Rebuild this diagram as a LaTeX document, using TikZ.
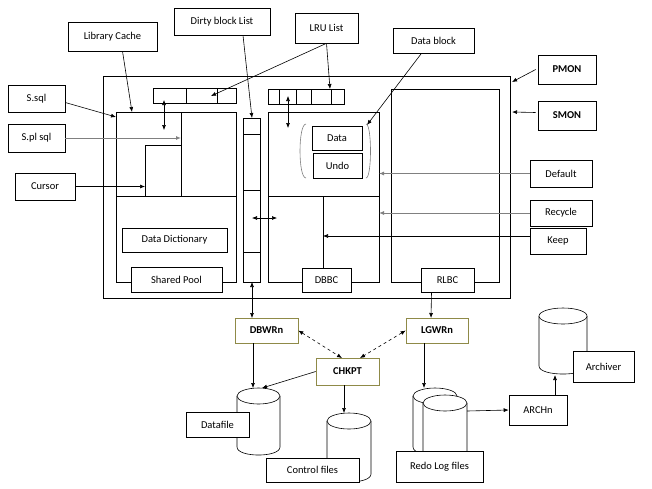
\documentclass[tikz,border=0pt]{standalone}
\usepackage{fontspec}
\setmainfont{Carlito}
\usetikzlibrary{calc}
\usetikzlibrary{arrows.meta}

\tikzset{
  lbl/.style={draw,fill=white,inner sep=0pt,font=\fontsize{10.5}{12}\selectfont},
  proc/.style={draw=olive!50!gray,fill=white,inner sep=0pt,font=\bfseries\fontsize{10.5}{12}\selectfont},
  arr/.style={-{Latex[length=5pt,width=4pt]}},
  darr/.style={{Latex[length=5pt,width=4pt]}-{Latex[length=5pt,width=4pt]}},
  garr/.style={arr,draw=gray,line width=1pt},
}

% cylinder: left x, top y, width, height
\newcommand{\drum}[4]{%
  \draw[fill=white] (#1,#2) -- (#1,{#2+#4}) .. controls (#1,{#2+#4+10.7}) and ({#1+#3},{#2+#4+10.7}) .. ({#1+#3},{#2+#4}) -- ({#1+#3},#2);
  \draw[fill=white] ({#1+#3/2},#2) ellipse ({#3/2} and 8);
}

\begin{document}
\begin{tikzpicture}[x=1pt,y=-1pt,line width=0.6pt]
            \useasboundingbox (0,0) rectangle (652,488);

            % SGA outline
            \draw (103,76) rectangle (510,298);

            % Shared pool
            \draw (116,112) rectangle (236,282);
            \draw (116,196) -- (236,196);
            \draw (181,112) -- (181,196);
            \draw (145,196) -- (145,145) -- (181,145);
            \node[lbl,minimum width=105pt,minimum height=24pt] (dd) at (174.5,240) {Data Dictionary};
            \node[lbl,minimum width=91pt,minimum height=25pt] (sp) at (176.5,279.5) {Shared Pool};
            \draw (153,88) rectangle (236,103);
            \foreach \x in {186,217} \draw (\x,88) -- (\x,103);

            % Dirty list column
            \draw (243,118) rectangle (260,282);
            \foreach \y in {134,190,252} \draw (243,\y) -- (260,\y);

            % Buffer cache
            \draw (268,112) rectangle (379,282);
            \draw (268,196) -- (379,196);
            \draw (323,196) -- (323,268);
            \draw (268,89) rectangle (344,104);
            \foreach \x in {279,296,311,331} \draw (\x,89) -- (\x,104);
            \node[lbl,minimum width=50pt,minimum height=24pt] (data) at (337,138) {Data};
            \node[lbl,minimum width=49pt,minimum height=25pt] (undo) at (337.5,165.5) {Undo};
            \draw[gray] (306,124) .. controls (298,124) and (298,178) .. (306,178);
            \draw[gray] (366,124) .. controls (372,124) and (372,178) .. (366,178);
            \node[lbl,minimum width=49pt,minimum height=24pt] (dbbc) at (326.5,280) {DBBC};

            % Redo log buffer
            \draw (391,89) rectangle (499,282);
            \node[lbl,minimum width=53pt,minimum height=24pt] (rlbc) at (447.5,280) {RLBC};

            % Outside labels
            \node[lbl,minimum width=89pt,minimum height=29pt] (libc) at (112.5,36.5) {Library Cache};
            \node[lbl,minimum width=96pt,minimum height=27pt] (dirty) at (222,21.5) {Dirty block List};
            \node[lbl,minimum width=63pt,minimum height=30pt] (lru) at (326.5,28) {LRU List};
            \node[lbl,minimum width=81pt,minimum height=25pt] (dblk) at (433.5,40.5) {Data block};
            \node[lbl,minimum width=58pt,minimum height=29pt,font=\bfseries\fontsize{10.5}{12}\selectfont] (pmon) at (567,69.5) {PMON};
            \node[lbl,minimum width=58pt,minimum height=29pt,font=\bfseries\fontsize{10.5}{12}\selectfont] (smon) at (567,115.5) {SMON};
            \node[lbl,minimum width=57pt,minimum height=27pt] (ssql) at (36.5,98.5) {S.sql};
            \node[lbl,minimum width=57pt,minimum height=28pt] (spl) at (36.5,138) {S.pl sql};
            \node[lbl,minimum width=60pt,minimum height=27pt] (cur) at (45,186.5) {Cursor};
            \node[lbl,minimum width=62pt,minimum height=27pt] (def) at (561,173.5) {Default};
            \node[lbl,minimum width=62pt,minimum height=26pt] (rec) at (561,213) {Recycle};
            \node[lbl,minimum width=56pt,minimum height=26pt] (keep) at (558,241) {Keep};

            % Arrows into SGA
            \coordinate (p1) at (132,112);
            \draw[arr] (libc.south) ++(10,0) -- (p1);
            \draw[arr] (dirty.south) ++(21,0) -- (252,118);
            \draw[arr] (lru.south) -- (211,96);
            \draw[arr] (lru.south) -- (330,89);
            \draw[arr] (dblk.south) ++(-12,0) -- (367,125);
            \draw[arr] (pmon.west) ++(-2,0) -- (512,82);
            \draw[arr] (smon.west) ++(-2,-3) -- (512,112);
            \draw[arr] (ssql.east) ++(0,4) -- (116,117);
            \draw[garr] (spl.east) -- (181,138);
            \draw[arr] (cur.east) -- (145,186.5);
            \draw[garr] (def.west) -- (379,173.5);
            \draw[garr] (rec.west) -- (379,213);
            \draw[arr] (keep.west) ++(0,-5) -- (323,236);
            \draw[darr] (164,100) -- (164,130);
            \draw[darr] (288,96) -- (288,128);
            \draw[darr] (252,218) -- (277,218);

            % Background processes
            \node[proc,minimum width=63pt,minimum height=25pt] (dbwr) at (266.5,330.5) {DBWRn};
            \node[proc,minimum width=62pt,minimum height=25pt] (lgwr) at (437,330.5) {LGWRn};
            \node[proc,minimum width=63pt,minimum height=27pt] (chk) at (347.5,371.5) {CHKPT};
            \draw[darr] (252,282) -- (252,318);
            \draw[arr] (rlbc.south) ++(-16,0) -- (431,318);
            \draw[darr,dashed] (dbwr.east) -- (342,358);
            \draw[darr,dashed] (lgwr.west) -- (360,358);

            % Files
            \drum{237}{396}{43}{51}
            \node[lbl,minimum width=63pt,minimum height=25pt] (df) at (217.5,424.5) {Datafile};
            \drum{327}{421}{44}{53}
            \node[lbl,minimum width=93pt,minimum height=24pt] (cf) at (312.5,470) {Control files};
            \drum{413}{396}{44}{51}
            \drum{423}{403}{44}{48}
            \node[lbl,minimum width=87pt,minimum height=31pt] (redo) at (439.5,466.5) {Redo Log files};
            \drum{539}{316}{48}{50}
            \node[lbl,minimum width=61pt,minimum height=31pt] (arv) at (603.5,366.5) {Archiver};
            \node[lbl,minimum width=58pt,minimum height=30pt] (arch) at (538,410) {ARCHn};

            \draw[arr] (253,343) -- (253,388);
            \draw[arr] (chk.west) -- (262,388);
            \draw[arr] (344,385) -- (344,413);
            \draw[arr] (424,343) -- (424,388);
            \draw[arr] (467,411) -- (arch.west);
            \draw[arr] (555,395) -- (555,375);

\end{tikzpicture}
\end{document}
